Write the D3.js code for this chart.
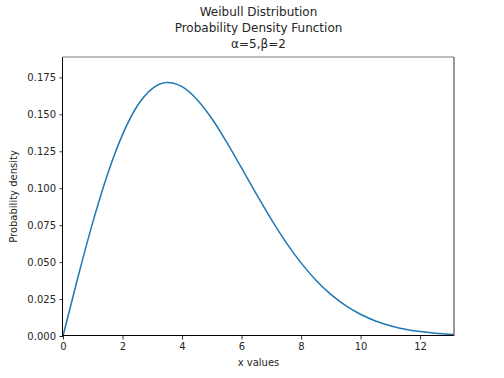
<!DOCTYPE html>
<html lang="en">
<head>
    <meta charset="UTF-8" />
    <title>Weibull Distribution PDF</title>
    <script src="https://d3js.org/d3.v7.min.js"></script>
    <style>
        body {
            margin: 0;
            background-color: #fff;
            font-family: 'DejaVu Sans', sans-serif;
        }
        .tick text {
            font-size: 10px;
            fill: #262626;
        }
        .axis-label {
            font-size: 10px;
            fill: #262626;
        }
        .title {
            font-size: 12px;
            fill: #262626;
        }
    </style>
</head>
<body>
    <svg id="chart"></svg>

    <script>
        // x positions and the density
        const xValues = [0, 0.5, 1, 1.5, 2, 2.5, 3, 3.5, 4, 4.5, 5, 5.5, 6, 6.5, 7, 7.5,
                         8, 8.5, 9, 9.5, 10, 10.5, 11, 11.5, 12, 12.5, 13.14];
        const densityValues = [0, 0.0396, 0.0769, 0.1097, 0.1363, 0.1558, 0.1674, 0.1715,
                               0.1687, 0.1601, 0.1472, 0.1312, 0.1137, 0.0960, 0.0789, 0.0632,
                               0.0495, 0.0378, 0.0282, 0.0206, 0.0147, 0.0102, 0.0070, 0.0046,
                               0.0030, 0.0019, 0.00105];
        const xTicks = [0, 2, 4, 6, 8, 10, 12];
        const yTicks = [0, 0.025, 0.05, 0.075, 0.1, 0.125, 0.15, 0.175];
        const titleLines = ["Weibull Distribution", "Probability Density Function", "α=5,β=2"];

        const totalWidth = 504, totalHeight = 378;
        const margin = { top: 57, right: 50, bottom: 42, left: 63 };
        const width = totalWidth - margin.left - margin.right;
        const height = totalHeight - margin.top - margin.bottom;

        const root = d3.select("#chart")
            .attr("width", totalWidth)
            .attr("height", totalHeight);

        const svg = root.append("g")
            .attr("transform", "translate(" + margin.left + "," + margin.top + ")");

        const data = xValues.map((x, i) => ({ x: x, y: densityValues[i] }));

        const xScale = d3.scaleLinear()
            .domain([0, 13.14])
            .range([0, width]);

        const yScale = d3.scaleLinear()
            .domain([0, 0.1888])
            .range([height, 0]);

        // curve
        const line = d3.line()
            .x(d => xScale(d.x))
            .y(d => yScale(d.y))
            .curve(d3.curveMonotoneX);

        svg.append("path")
            .datum(data)
            .attr("fill", "none")
            .attr("stroke", "#1f77b4")
            .attr("stroke-width", 1.5)
            .attr("d", line);

        // axes
        const xAxis = d3.axisBottom(xScale).tickValues(xTicks)
            .tickSize(3.5).tickPadding(3.5).tickFormat(d3.format("d"));
        const yAxis = d3.axisLeft(yScale).tickValues(yTicks)
            .tickSize(3.5).tickPadding(3.5).tickFormat(d3.format(".3f"));

        const gx = svg.append("g")
            .attr("transform", "translate(0," + height + ")")
            .call(xAxis);
        const gy = svg.append("g").call(yAxis);

        [gx, gy].forEach(g => {
            g.select(".domain").remove();
            g.selectAll(".tick line").attr("stroke", "#000").attr("stroke-width", 0.8);
            g.selectAll(".tick text").attr("font-family", "'DejaVu Sans', sans-serif");
        });

        // spines: left/bottom crisp, top/right a little softer like the original
        svg.append("line")
            .attr("x1", -0.5).attr("x2", -0.5)
            .attr("y1", 0).attr("y2", height + 0.5)
            .attr("stroke", "#000").attr("stroke-width", 1);
        svg.append("line")
            .attr("x1", -0.5).attr("x2", width)
            .attr("y1", height - 0.5).attr("y2", height - 0.5)
            .attr("stroke", "#000").attr("stroke-width", 1);
        svg.append("line")
            .attr("x1", -0.5).attr("x2", width)
            .attr("y1", 0).attr("y2", 0)
            .attr("stroke", "#555").attr("stroke-width", 0.8);
        svg.append("line")
            .attr("x1", width).attr("x2", width)
            .attr("y1", 0).attr("y2", height)
            .attr("stroke", "#555").attr("stroke-width", 1.2);

        // labels
        svg.append("text")
            .attr("class", "axis-label")
            .attr("x", width / 2)
            .attr("y", height + 30)
            .style("text-anchor", "middle")
            .text("x values");

        svg.append("text")
            .attr("class", "axis-label")
            .attr("transform", "rotate(-90)")
            .attr("x", -height / 2)
            .attr("y", -46)
            .style("text-anchor", "middle")
            .text("Probability density");

        root.append("g")
            .selectAll("text")
            .data(titleLines)
            .enter()
            .append("text")
            .attr("class", "title")
            .attr("x", margin.left + width / 2)
            .attr("y", (d, i) => 16 + i * 16)
            .style("text-anchor", "middle")
            .text(d => d);
    </script>
</body>
</html>
